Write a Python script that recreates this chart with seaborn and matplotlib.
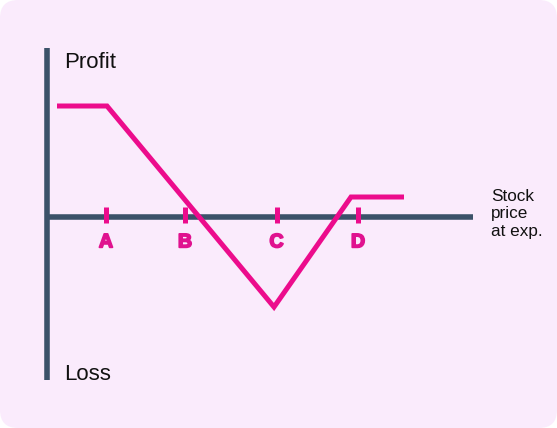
import numpy as np
import pandas as pd
import matplotlib
matplotlib.use("Agg")
import matplotlib.pyplot as plt
import matplotlib.patheffects as pe
import seaborn as sns
from matplotlib.patches import FancyBboxPatch
from matplotlib.transforms import IdentityTransform

# 만기 주가 vs 손익 (임의 단위)
price = [1.0, 6.0, 22.7, 30.4, 35.7]
profit = [11.1, 11.1, -9.0, 2.0, 2.0]

strike_names = ["A", "B", "C", "D"]
strike_prices = [5.9, 13.8, 22.95, 31.1]

payoff = pd.DataFrame({"price": price, "profit": profit})

sns.set_theme(style="white")
plt.rcParams['font.family'] = ['Liberation Sans', 'DejaVu Sans']

bg = "#FAEBFC"
axis_col = "#3B5269"
pink = "#EC0C8C"
label_col = "#E0128F"

fig = plt.figure(figsize=(5.57, 4.28), dpi=100)
fig.patch.set_facecolor("white")
fig.add_artist(FancyBboxPatch((0, 0), 557, 428,
                              boxstyle="round,pad=0,rounding_size=18",
                              transform=IdentityTransform(),
                              facecolor=bg, edgecolor="none", zorder=0))

ax = fig.add_axes([0, 0, 1, 1])
ax.set_facecolor("none")
ax.set_xlim(-4.7, 51.0)
ax.set_ylim(-21.1, 21.7)
ax.axis("off")

# 축
ax.plot([0, 0], [16.9, -16.3], color=axis_col, lw=4, solid_capstyle="butt")
ax.plot([0, 42.6], [0, 0], color=axis_col, lw=4, solid_capstyle="butt")

# 행사가 눈금
for name, x in zip(strike_names, strike_prices):
    ax.plot([x, x], [0.95, -0.65], color=pink, lw=3.6, solid_capstyle="butt", zorder=3)
    ax.text(x, -3.03, name, ha="center", va="baseline", fontsize=14,
            fontweight="bold", color=label_col,
            path_effects=[pe.withStroke(linewidth=1.3, foreground=label_col)])

# 손익 곡선
sns.lineplot(data=payoff, x="price", y="profit", sort=False, color=pink,
             lw=3.6, ax=ax, zorder=4)
ax.lines[-1].set_solid_joinstyle("miter")
ax.lines[-1].set_solid_capstyle("butt")

ax.text(1.7, 14.87, "Profit", ha="left", va="baseline", fontsize=16, color="#111111")
ax.text(1.7, -16.3, "Loss", ha="left", va="baseline", fontsize=16, color="#111111")
ax.text(44.4, 0.3, "Stock\nprice\nat exp.", ha="left", va="center", fontsize=12.3,
        linespacing=1.22, color="#111111")

fig.savefig("out.png", dpi=100, facecolor=fig.get_facecolor())
